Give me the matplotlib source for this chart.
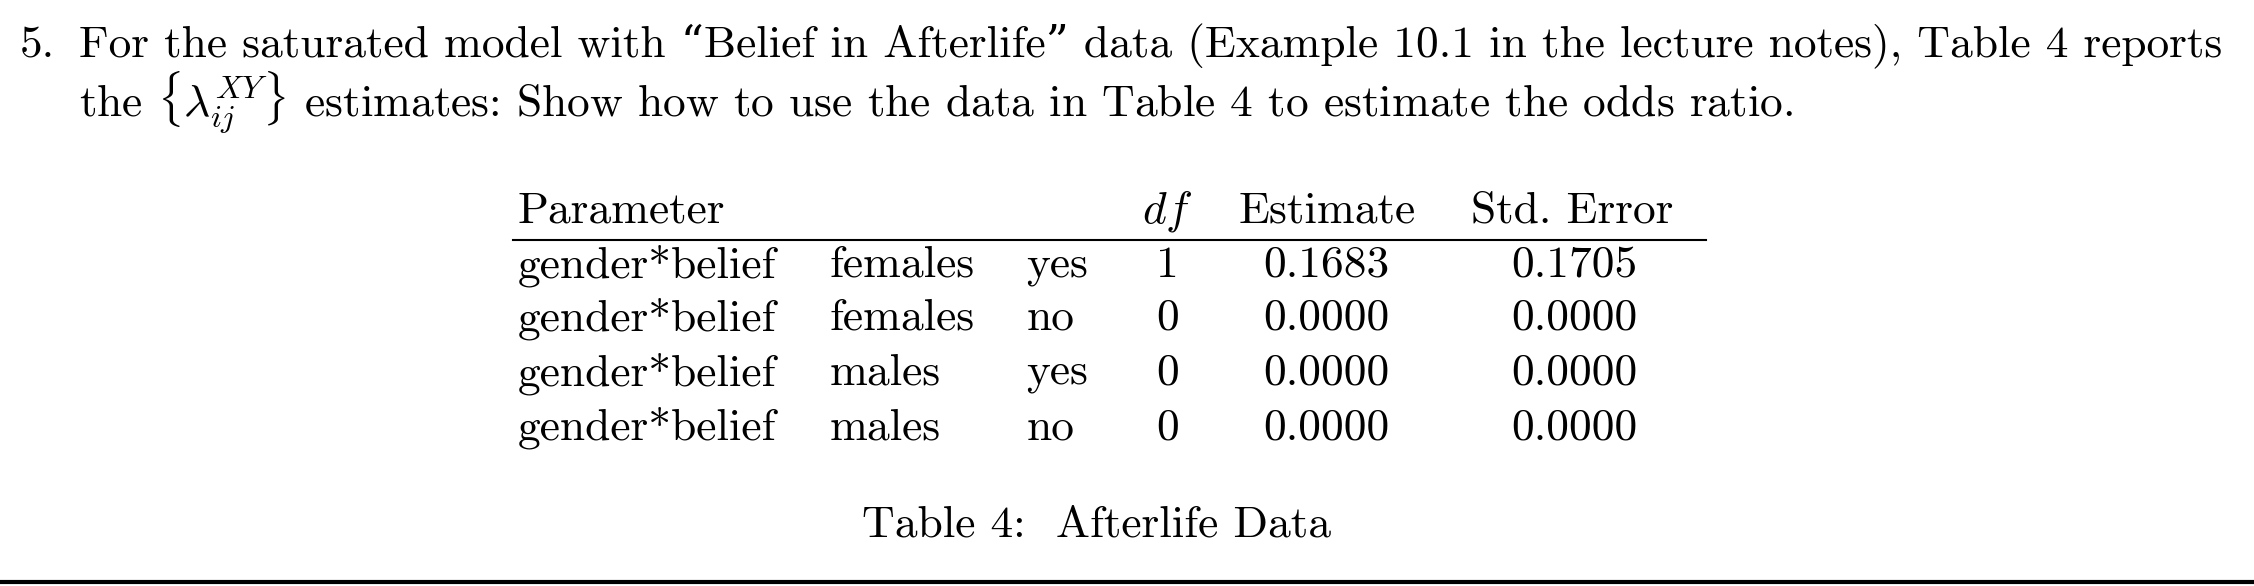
import matplotlib
matplotlib.use("Agg")
import matplotlib.pyplot as plt

plt.rcParams['font.family'] = ['cmr10', 'DejaVu Serif']
plt.rcParams['mathtext.fontset'] = 'cm'
plt.rcParams['axes.unicode_minus'] = False

headers = ["Parameter", "$df$", "Estimate", "Std. Error"]
param = ["gender*belief"] * 4
gender = ["females", "females", "males", "males"]
belief = ["yes", "no", "yes", "no"]
df = ["1", "0", "0", "0"]
estimate = ["0.1683", "0.0000", "0.0000", "0.0000"]
stderr = ["0.1705", "0.0000", "0.0000", "0.0000"]

W, H = 1568, 408
fig = plt.figure(figsize=(22.54, 5.86), dpi=100)
ax = fig.add_axes([0, 0, 1, 1])
ax.set_xlim(0, W); ax.set_ylim(H, 0); ax.axis('off')
fs = 32.7

ax.text(14, 32, "5.", fontsize=fs, va='center')
ax.text(55, 32, "For the saturated model with \u201cBelief in Afterlife\u201d data (Example 10.1 in the lecture notes), Table 4 reports",
        fontsize=fs, va='center')
ax.text(55, 71, r"the $\{\lambda_{ij}^{XY}\}$ estimates: Show how to use the data in Table 4 to estimate the odds ratio.",
        fontsize=fs, va='center')

ax.text(360, 147, headers[0], fontsize=fs, va='center')
ax.text(812, 147, headers[1], fontsize=fs, va='center', ha='center')
ax.text(923, 147, headers[2], fontsize=fs, va='center', ha='center')
ax.text(1094, 147, headers[3], fontsize=fs, va='center', ha='center')
ax.plot([357, 1187], [167, 167], color='black', lw=1.5)

ys = [185, 222, 260, 298]
for i, y in enumerate(ys):
    ax.text(360, y, param[i], fontsize=fs, va='center')
    ax.text(577, y, gender[i], fontsize=fs, va='center')
    ax.text(714, y, belief[i], fontsize=fs, va='center')
    ax.text(812, y, df[i], fontsize=fs, va='center', ha='center')
    ax.text(923, y, estimate[i], fontsize=fs, va='center', ha='center')
    ax.text(1095, y, stderr[i], fontsize=fs, va='center', ha='center')

ax.text(763, 366, "Table 4:  Afterlife Data", fontsize=fs, va='center', ha='center')
ax.plot([0, W], [405, 405], color='black', lw=3)

fig.savefig("out.png", dpi=100)
